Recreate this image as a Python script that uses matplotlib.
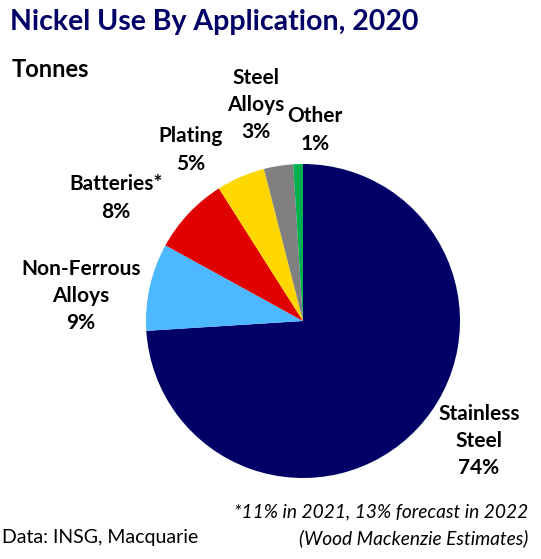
import matplotlib
matplotlib.use("Agg")
import matplotlib.pyplot as plt

# data
categories = ["Stainless\nSteel", "Non-Ferrous\nAlloys", "Batteries*", "Plating",
              "Steel\nAlloys", "Other"]
shares = [74, 9, 8, 5, 3, 1]
colors = ["#000066", "#4db8ff", "#e00000", "#ffd700", "#808080", "#00b050"]

W, H = 541, 559
plt.rcParams['font.family'] = ['Lato', 'DejaVu Sans']

fig = plt.figure(figsize=(W / 100, H / 100), dpi=100)
fig.patch.set_facecolor("white")

# pie axes (center ~ (303, 321) px, radius ~157 px)
cx, cy, r = 303, 321, 157
ax = fig.add_axes([(cx - r) / W, (H - cy - r) / H, 2 * r / W, 2 * r / H])
ax.pie(shares, colors=colors, startangle=90, counterclock=False,
       wedgeprops=dict(linewidth=0))
ax.set_xlim(-1, 1)
ax.set_ylim(-1, 1)
ax.set_aspect("equal")
ax.axis("off")

# label positions in pixels (center of text block)
label_pos = [(479, 441), (81, 296), (116, 198), (191, 150), (256, 105), (315, 130)]
for name, val, (px, py) in zip(categories, shares, label_pos):
    fig.text(px / W, 1 - py / H, f"{name}\n{val}%", ha="center", va="center",
             fontsize=15, fontweight="bold", linespacing=1.45, color="black")

fig.text(10 / W, 1 - 22 / H, "Nickel Use By Application, 2020", ha="left", va="center",
         fontsize=20.5, fontweight="bold", color="#000066")
fig.text(12 / W, 1 - 70 / H, "Tonnes", ha="left", va="center",
         fontsize=17, fontweight="bold", color="black")

fig.text(528 / W, 1 - 512 / H, "*11% in 2021, 13% forecast in 2022", ha="right",
         va="center", fontsize=13.8, style="italic", color="black")
fig.text(528 / W, 1 - 538 / H, "(Wood Mackenzie Estimates)", ha="right",
         va="center", fontsize=13.8, style="italic", color="black")
fig.text(2 / W, 1 - 538 / H, "Data: INSG, Macquarie", ha="left", va="center",
         fontsize=14, color="black")

fig.savefig("out.png", dpi=100)
